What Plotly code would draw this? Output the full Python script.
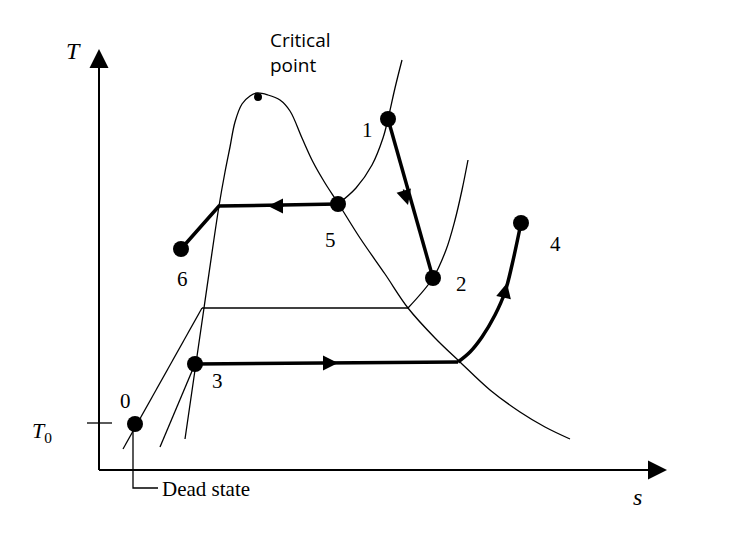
import plotly.graph_objects as go

# ---- data (s, T) in drawing units (pixel-like, T axis downward) ----
dome_s = [185, 204, 219, 225, 230, 235, 242, 250, 257, 268, 280, 290, 302, 313, 325, 338, 360, 385, 408, 435, 460, 490, 520, 545, 570]
dome_T = [439, 308, 206, 172, 147, 122, 104, 96, 93, 95, 100, 111, 138, 162, 183, 203, 238, 274, 308, 338, 362, 390, 412, 427, 439]

hp_iso_s = [338, 356, 372, 383, 388, 395, 402]
hp_iso_T = [204, 188, 165, 138, 119, 88, 60]

lp_iso_s = [408, 433, 446, 455, 462, 468]
lp_iso_T = [308, 278, 250, 220, 190, 160]

cond_s = [202, 408]
cond_T = [308, 308]

dead_line_s = [123, 202]
dead_line_T = [449, 308]

liq3_s = [160, 195]
liq3_T = [447, 364]

path_56_s = [338, 219, 181]
path_56_T = [204, 206, 249]

path_12_s = [388, 433]
path_12_T = [119, 278]

path_34_s = [195, 458, 470, 482, 495, 505, 512, 521]
path_34_T = [364, 362, 352, 337, 315, 292, 265, 223]

state_labels = ["0", "1", "2", "3", "4", "5", "6"]
state_s = [135, 388, 433, 195, 521, 338, 181]
state_T = [424, 119, 278, 364, 223, 204, 249]
label_s = [125, 367, 461, 217, 555, 330, 182]
label_T = [401, 130, 284, 381, 244, 240, 279]

crit_s = [258]
crit_T = [97]

T0_value = 423
axis_origin = (99, 470)
axis_s_end = 667
axis_T_end = 49

fig = go.Figure()

def line(xs, ys, w, shape="linear"):
    fig.add_trace(go.Scatter(x=xs, y=ys, mode="lines",
                             line=dict(color="black", width=w, shape=shape, smoothing=1.0),
                             hoverinfo="skip", showlegend=False))

# thin curves
line(dome_s, dome_T, 1.3, "spline")
line(hp_iso_s, hp_iso_T, 1.3, "spline")
line(lp_iso_s, lp_iso_T, 1.3, "spline")
line(cond_s, cond_T, 1.3)
line(dead_line_s, dead_line_T, 1.3)
line(liq3_s, liq3_T, 1.3)

# thick process lines
line(path_56_s, path_56_T, 3.5)
line(path_12_s, path_12_T, 3.5)
line(path_34_s[:2], path_34_T[:2], 3.5)
line(path_34_s[1:], path_34_T[1:], 3.5, "spline")

# axes
ox, oy = axis_origin
line([ox, axis_s_end - 8], [oy, oy], 2)
line([ox, ox], [oy, axis_T_end + 8], 2)
# T0 tick
line([87, 112], [T0_value, T0_value], 1.3)
# dead state leader
line([state_s[0] - 2, state_s[0] - 2, 158], [state_T[0], 488, 488], 1.3)

# state points
fig.add_trace(go.Scatter(x=state_s, y=state_T, mode="markers",
                         marker=dict(color="black", size=16),
                         hoverinfo="skip", showlegend=False))
fig.add_trace(go.Scatter(x=crit_s, y=crit_T, mode="markers",
                         marker=dict(color="black", size=8),
                         hoverinfo="skip", showlegend=False))

serif = "Liberation Serif, Times New Roman, serif"
for lab, xs, ys in zip(state_labels, label_s, label_T):
    fig.add_annotation(x=xs, y=ys, text=lab, showarrow=False,
                       font=dict(family=serif, size=21, color="black"))

fig.add_annotation(x=268, y=52, text="Critical<br>point", showarrow=False, xanchor="left",
                   align="left", font=dict(family="Open Sans, sans-serif", size=19, color="black"))
fig.add_annotation(x=160, y=489, text="Dead state", showarrow=False, xanchor="left",
                   font=dict(family=serif, size=21, color="black"))
fig.add_annotation(x=73, y=51, text="<i>T</i>", showarrow=False,
                   font=dict(family=serif, size=24, color="black"))
fig.add_annotation(x=42, y=432, text="<i>T</i><sub>0</sub>", showarrow=False,
                   font=dict(family=serif, size=22, color="black"))
fig.add_annotation(x=637, y=497, text="<i>s</i>", showarrow=False,
                   font=dict(family=serif, size=24, color="black"))

def arrow(x, y, ax, ay, w, size):
    fig.add_annotation(x=x, y=y, ax=ax, ay=ay, xref="x", yref="y", axref="x", ayref="y",
                       text="", showarrow=True, arrowhead=2, arrowsize=size,
                       arrowwidth=w, arrowcolor="black", standoff=0, startstandoff=0)

# axis arrowheads
arrow(axis_s_end, oy, axis_s_end - 20, oy, 2, 1.9)
arrow(ox, axis_T_end, ox, axis_T_end + 20, 2, 1.9)
# process arrows
arrow(268, 206, 285, 206, 1.5, 2.0)
arrow(408, 205, 403, 188, 1.5, 2.0)
arrow(338, 363, 320, 363, 1.5, 2.0)
arrow(507, 283, 503, 300, 1.5, 2.0)

fig.update_layout(width=730, height=541, margin=dict(l=0, r=0, t=0, b=0),
                  paper_bgcolor="white", plot_bgcolor="white")
fig.update_xaxes(range=[0, 730], visible=False, fixedrange=True)
fig.update_yaxes(range=[541, 0], visible=False, fixedrange=True)

fig.write_html("out.html")
